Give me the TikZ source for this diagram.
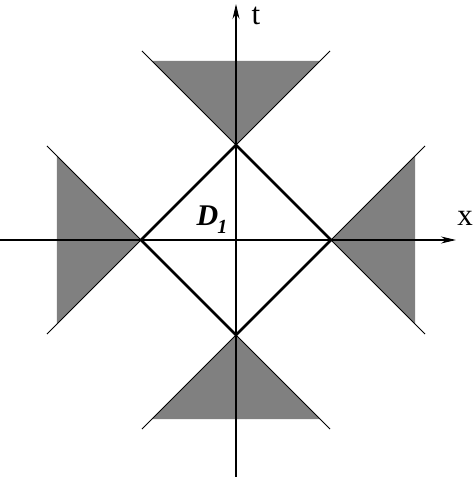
\documentclass[tikz,border=0pt]{standalone}
\usepackage{fontspec}
\setmainfont{Liberation Serif}
\usetikzlibrary{arrows.meta}
\begin{document}
\begin{tikzpicture}[x=1pt,y=1pt,
  axis/.style={line width=1.1pt,-{Stealth[length=15pt,width=7pt,inset=5pt]}},
  cone/.style={fill=black!50,draw=none},
  ray/.style={line width=0.9pt},
  diam/.style={line width=2.5pt,line join=miter},
  lbl/.style={font=\fontsize{31}{31}\selectfont,inner sep=0pt}]
\useasboundingbox (-236,-237) rectangle (238,240);
% vertices
\coordinate (T) at (0,95);
\coordinate (B) at (0,-95);
\coordinate (L) at (-95,0);
\coordinate (R) at (95,0);
% shaded cones
\fill[cone] (T) -- ++(-84,84) -- ++(168,0) -- cycle;
\fill[cone] (B) -- ++(-84,-84) -- ++(168,0) -- cycle;
\fill[cone] (L) -- ++(-84,84) -- ++(0,-168) -- cycle;
\fill[cone] (R) -- ++(84,84) -- ++(0,-168) -- cycle;
% rays
\coordinate (T1) at (-94,189); \coordinate (T2) at (94,189);
\coordinate (B1) at (-94,-189); \coordinate (B2) at (94,-189);
\coordinate (L1) at (-189,94); \coordinate (L2) at (-189,-94);
\coordinate (R1) at (189,94); \coordinate (R2) at (189,-94);
\draw[ray] (T1) -- (T) -- (T2);
\draw[ray] (B1) -- (B) -- (B2);
\draw[ray] (L1) -- (L) -- (L2);
\draw[ray] (R1) -- (R) -- (R2);
% axes
\coordinate (xs) at (-236,0); \coordinate (xe) at (220,0);
\coordinate (ts) at (0,-237); \coordinate (te) at (0,236);
\draw[axis] (xs) -- (xe);
\draw[axis] (ts) -- (te);
% diamond
\draw[diam] (T) -- (R) -- (B) -- (L) -- cycle;
% labels
\node[lbl] (tl) at (20,224) {t};
\node[lbl] (xl) at (229,22) {x};
\node[inner sep=0pt] (d1) at (-24,20) {\fontsize{30}{30}\selectfont\bfseries\itshape D\kern-1pt\raisebox{-8pt}{\fontsize{20}{20}\selectfont 1}};
\end{tikzpicture}
\end{document}
